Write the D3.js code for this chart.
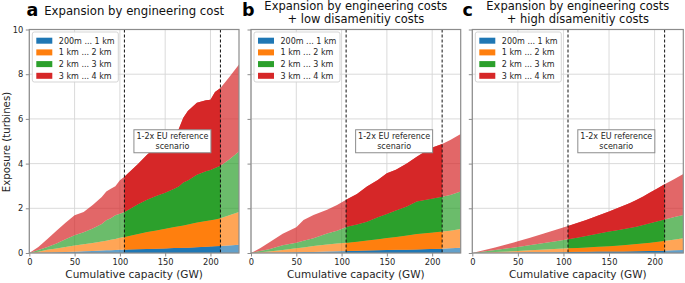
<!DOCTYPE html>
<html><head><meta charset="utf-8">
<script src="https://cdn.jsdelivr.net/npm/d3@7"></script>
<style>body{margin:0;background:#fff}svg{display:block;font-family:"DejaVu Sans",sans-serif}</style>
</head><body><svg id="c" width="685" height="283"></svg>
<script>
// ---------- data ----------
const seriesNames = ["200m ... 1 km", "1 km ... 2 km", "2 km ... 3 km", "3 km ... 4 km"];
const seriesColors = ["#1f77b4", "#ff7f0e", "#2ca02c", "#d62728"];

// Panel a: expansion by engineering cost (band thickness per distance class)
const capA    = [0,10,20,30,40,50,60,70,80,85,90,95,100,105,110,120,130,140,150,160,165,170,175,185,195,200,205,211,220,231.5];
const blueA   = [0,.01,.02,.035,.05,.06,.08,.09,.11,.12,.125,.13,.14,.15,.155,.165,.18,.19,.205,.22,.225,.235,.24,.26,.28,.29,.30,.31,.34,.37];
const orangeA = [0,.05,.12,.165,.22,.28,.31,.36,.40,.43,.465,.50,.54,.57,.605,.685,.76,.82,.885,.94,.975,.995,1.03,1.10,1.15,1.18,1.20,1.24,1.34,1.47];
const greenA  = [0,.07,.13,.23,.34,.45,.54,.65,.79,.92,.96,1.06,1.08,1.12,1.19,1.33,1.44,1.54,1.61,1.71,1.78,1.92,1.97,2.14,2.23,2.24,2.30,2.35,2.48,2.70];
const redA    = [0,.14,.36,.57,.74,.90,.91,1.05,1.21,1.28,1.33,1.30,1.49,1.57,1.65,1.80,2.02,2.20,2.36,2.51,2.57,2.90,3.11,3.22,3.17,3.15,3.40,3.48,3.67,3.89];

// Panel b: + low disamenity costs
const capB    = [0,10,20,35,50,58,69,84,95,106,117,128,140,150,160,172,183,198,211,220,231.5];
const blueB   = [0,.01,.015,.025,.035,.04,.05,.065,.075,.09,.10,.11,.12,.13,.14,.15,.16,.18,.19,.21,.24];
const orangeB = [0,.02,.055,.105,.175,.21,.26,.315,.345,.37,.40,.45,.50,.54,.58,.63,.69,.73,.77,.79,.83];
const greenB  = [0,.06,.10,.22,.25,.30,.35,.49,.58,.72,.78,.84,.98,1.08,1.18,1.30,1.45,1.51,1.56,1.60,1.68];
const redB    = [0,.12,.30,.51,.69,.93,1.04,1.06,1.15,1.22,1.36,1.57,1.67,1.82,1.82,1.93,2.01,2.27,2.36,2.46,2.58];

// Panel c: + high disamenity costs
const capC    = [0,25,50,75,105,125,150,180,210,231.5];
const blueC   = [0,.01,.02,.03,.045,.055,.065,.08,.10,.13];
const orangeC = [0,.03,.07,.11,.165,.195,.235,.32,.44,.53];
const greenC  = [0,.09,.18,.28,.40,.51,.66,.78,.95,1.04];
const redC    = [0,.12,.26,.41,.60,.72,.90,1.19,1.56,1.84];

const xTicks = [0, 50, 100, 150, 200];
const yTicks = [0, 2, 4, 6, 8, 10];
const refLines = [105, 211];
const refLabel = ["1-2x EU reference", "scenario"];
const panelLetters = ["a", "b", "c"];
const panelTitles = [["Expansion by engineering cost"],
                     ["Expansion by engineering costs", "+ low disamenitiy costs"],
                     ["Expansion by engineering costs", "+ high disamenitiy costs"]];
const xLabel = "Cumulative capacity (GW)";
const yLabel = "Exposure (turbines)";

const panels = [
  {cap: capA, vals: [blueA, orangeA, greenA, redA], curve: d3.curveLinear},
  {cap: capB, vals: [blueB, orangeB, greenB, redB], curve: d3.curveLinear},
  {cap: capC, vals: [blueC, orangeC, greenC, redC], curve: d3.curveMonotoneX}
];

// ---------- layout ----------
const svg = d3.select("#c");
const lefts = [29.3, 251, 472.3], widths = [209.7, 209.7, 211];
const plotTop = 29.5, plotBottom = 253;
const y = d3.scaleLinear().domain([0, 10]).range([plotBottom, plotTop]);
const spine = "#8c8c8c", txt = "#262626";
const keys = [0,1,2,3];

panels.forEach((p, i) => {
  const x = d3.scaleLinear().domain([0, 231.5]).range([lefts[i], lefts[i] + widths[i]]);
  const g = svg.append("g");

  // grid
  g.append("g").selectAll("line").data(xTicks).join("line")
    .attr("x1", d => x(d)).attr("x2", d => x(d)).attr("y1", plotTop).attr("y2", plotBottom)
    .attr("stroke", "#d6d6d6").attr("stroke-width", 0.9);
  g.append("g").selectAll("line").data(yTicks).join("line")
    .attr("x1", x.range()[0]).attr("x2", x.range()[1]).attr("y1", d => y(d)).attr("y2", d => y(d))
    .attr("stroke", "#d6d6d6").attr("stroke-width", 0.9);

  // stacked data
  const rows = p.cap.map((c, j) => ({cap: c, 0: p.vals[0][j], 1: p.vals[1][j], 2: p.vals[2][j], 3: p.vals[3][j]}));
  const stacked = d3.stack().keys(keys)(rows);
  const area = d3.area().curve(p.curve).x(d => x(d.data.cap)).y0(d => y(d[0])).y1(d => y(d[1]));

  const clipId = "clip" + i;
  svg.append("clipPath").attr("id", clipId).append("rect")
    .attr("x", x(refLines[0])).attr("y", plotTop).attr("width", x(refLines[1]) - x(refLines[0])).attr("height", plotBottom - plotTop);

  g.append("g").selectAll("path").data(stacked).join("path")
    .attr("d", area).attr("fill", (d, k) => seriesColors[k]).attr("fill-opacity", 0.7);
  g.append("g").attr("clip-path", `url(#${clipId})`).selectAll("path").data(stacked).join("path")
    .attr("d", area).attr("fill", (d, k) => seriesColors[k]);

  // reference lines
  g.append("g").selectAll("line").data(refLines).join("line")
    .attr("x1", d => x(d)).attr("x2", d => x(d)).attr("y1", plotTop).attr("y2", plotBottom)
    .attr("stroke", "#111").attr("stroke-width", 1).attr("stroke-dasharray", "3,2");

  // annotation box
  const cx = x((refLines[0] + refLines[1]) / 2), cy = y(5);
  g.append("rect").attr("x", cx - 38.5).attr("y", cy - 11.5).attr("width", 77).attr("height", 23)
    .attr("fill", "#fff").attr("stroke", "#8c8c8c").attr("stroke-width", 1);
  g.append("text").attr("x", cx).attr("y", cy - 2).attr("text-anchor", "middle")
    .attr("font-size", 8).attr("fill", txt)
    .selectAll("tspan").data(refLabel).join("tspan")
    .attr("x", cx).attr("dy", (d, k) => k ? 9.5 : 0).text(d => d);

  // spines
  g.append("rect").attr("x", x.range()[0]).attr("y", plotTop).attr("width", widths[i]).attr("height", plotBottom - plotTop)
    .attr("fill", "none").attr("stroke", spine).attr("stroke-width", 1.2);

  // x axis
  const xa = g.append("g").attr("transform", `translate(0,${plotBottom})`)
    .call(d3.axisBottom(x).tickValues(xTicks).tickSize(3.5).tickPadding(2.5));
  xa.select(".domain").remove();
  xa.selectAll("line").attr("stroke", spine);
  xa.selectAll("text").attr("font-size", 8.3).attr("fill", txt).attr("font-family", "DejaVu Sans");

  // y axis
  const ya = g.append("g").attr("transform", `translate(${x.range()[0]},0)`)
    .call(d3.axisLeft(y).tickValues(yTicks).tickSize(3.5).tickPadding(2.5).tickFormat(i === 0 ? d3.format("d") : () => ""));
  ya.select(".domain").remove();
  ya.selectAll("line").attr("stroke", spine);
  ya.selectAll("text").attr("font-size", 8.3).attr("fill", txt).attr("font-family", "DejaVu Sans");

  // x label
  g.append("text").attr("x", (x.range()[0] + x.range()[1]) / 2).attr("y", 278)
    .attr("text-anchor", "middle").attr("font-size", 10.5).attr("fill", txt).text(xLabel);

  // legend
  const lx = x.range()[0] + 3, ly = plotTop + 2.5;
  const lg = g.append("g");
  lg.append("rect").attr("x", lx).attr("y", ly).attr("width", 86).attr("height", 50).attr("rx", 2)
    .attr("fill", "#fff").attr("fill-opacity", 0.85).attr("stroke", "#d0d0d0").attr("stroke-width", 0.9);
  seriesNames.forEach((n, k) => {
    const yy = ly + 8.7 + k * 11.7;
    lg.append("rect").attr("x", lx + 4).attr("y", yy - 3).attr("width", 16).attr("height", 6).attr("fill", seriesColors[k]);
    lg.append("text").attr("x", lx + 26.5).attr("y", yy + 3).attr("font-size", 8).attr("fill", txt).text(n);
  });

  // titles
  const tc = (x.range()[0] + x.range()[1]) / 2;
  const tl = panelTitles[i];
  if (tl.length === 1) {
    g.append("text").attr("x", tc).attr("y", 15).attr("text-anchor", "middle").attr("font-size", 11.7).attr("fill", "#111").text(tl[0]);
  } else {
    tl.forEach((t, k) => g.append("text").attr("x", tc).attr("y", 9.6 + k * 13.6)
      .attr("text-anchor", "middle").attr("font-size", 11.5).attr("fill", "#111").text(t));
  }
});

// panel letters
const letterX = [26.5, 242, 462.5];
panelLetters.forEach((l, i) => svg.append("text").attr("x", letterX[i]).attr("y", 15.5)
  .attr("font-size", 17.5).attr("font-weight", "bold").attr("fill", "#000").text(l));

// y label
svg.append("text").attr("transform", `translate(9.5,142) rotate(-90)`).attr("text-anchor", "middle")
  .attr("font-size", 10.2).attr("fill", txt).text(yLabel);
</script></body></html>
